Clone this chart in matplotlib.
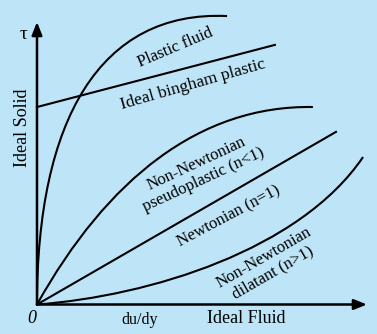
import numpy as np
import matplotlib
matplotlib.use("Agg")
import matplotlib.pyplot as plt
from matplotlib.path import Path
from matplotlib.patches import PathPatch

# shear rate (du/dy) vs shear stress (tau), arbitrary units.
# curved flows are given as cubic Bezier control points (start, ctrl, ctrl, end)
plastic_x = [0, 0, 1.91, 5.76]
plastic_y = [0, 6.53, 10.42, 10.21]

pseudo_x = [0, 2.12, 4.94, 8.36]
pseudo_y = [0, 4.44, 7.06, 6.99]

dilatant_x = [0, 3.42, 7.97, 9.88]
dilatant_y = [0, 0.30, 1.93, 5.22]

bingham_x = [0, 7.21]
bingham_y = [6.99, 9.19]

newton_x = [0, 9.06]
newton_y = [0, 6.11]

BG = "#bee4f7"
FONT = ["Liberation Serif", "DejaVu Serif"]


def bezier(xs, ys):
    verts = list(zip(xs, ys))
    codes = [Path.MOVETO] + [Path.CURVE4] * 3
    return Path(verts, codes)


fig = plt.figure(figsize=(3.77, 3.34), dpi=100, facecolor=BG)
ax = fig.add_axes([0, 0, 1, 1])
ax.set_facecolor(BG)
ax.set_xlim(-37 / 33, 340 / 33)
ax.set_ylim(-29.5 / 28.25, 304.5 / 28.25)
ax.axis("off")

lw = 1.5
for xs, ys in [(plastic_x, plastic_y), (pseudo_x, pseudo_y), (dilatant_x, dilatant_y)]:
    ax.add_patch(PathPatch(bezier(xs, ys), fill=False, color="black", lw=lw))
ax.plot(bingham_x, bingham_y, color="black", lw=lw)
ax.plot(newton_x, newton_y, color="black", lw=lw)

arrow = dict(arrowstyle="-|>,head_length=0.55,head_width=0.22", color="black",
             lw=1.8, shrinkA=0, shrinkB=0, mutation_scale=14)
ax.annotate("", xy=(0, 10), xytext=(0, 0), arrowprops=arrow)
ax.annotate("", xy=(10, 0), xytext=(0, 0), arrowprops=arrow)

big = dict(family=FONT, fontsize=13, ha="center", va="center")
small = dict(family=FONT, fontsize=12, ha="center", va="center")

ax.text(-0.42, 9.54, "τ", family=FONT, fontsize=14, ha="center", va="center")
ax.text(-0.45, 6.25, "Ideal Solid", rotation=90, **big)
ax.text(-0.15, -0.48, "0", style="italic", **big)
ax.text(3.12, -0.55, "du/dy", family=FONT, fontsize=11.5, ha="center", va="center")
ax.text(6.33, -0.48, "Ideal Fluid", **big)

ax.text(4.18, 9.08, "Plastic fluid", rotation=23, rotation_mode="anchor", **small)
ax.text(4.72, 7.80, "Ideal bingham plastic", rotation=16, rotation_mode="anchor",
        family=FONT, fontsize=12.5, ha="center", va="center")
ax.text(4.94, 4.69, "Non-Newtonian\npseudoplastic (n<1)", rotation=25,
        linespacing=1.1, rotation_mode="anchor", **small)
ax.text(5.82, 3.13, "Newtonian (n=1)", rotation=28, rotation_mode="anchor", **small)
ax.text(7.0, 1.40, "Non-Newtonian\ndilatant (n>1)", rotation=30,
        linespacing=1.1, rotation_mode="anchor", **small)

fig.savefig("out.png", dpi=100, facecolor=BG)
